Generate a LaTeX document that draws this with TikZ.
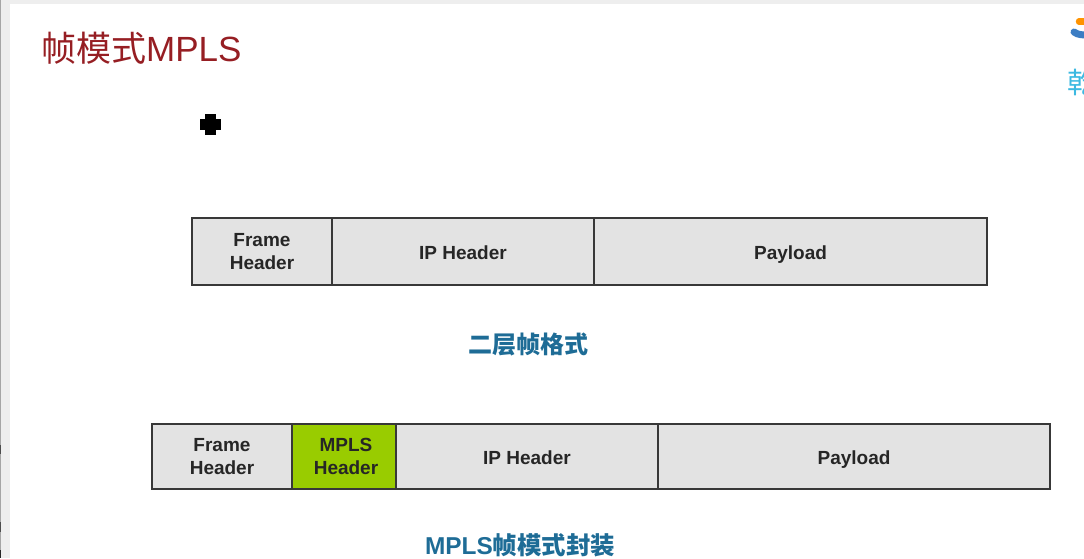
\documentclass[tikz,border=0pt]{standalone}
\usepackage{fontspec}
\setmainfont{Liberation Sans}
\newfontfamily\cjk{Noto Sans CJK SC}
\usetikzlibrary{positioning}
\definecolor{titlered}{RGB}{150,30,35}
\definecolor{capblue}{RGB}{30,108,150}
\definecolor{cellgray}{RGB}{227,227,227}
\definecolor{cellgreen}{RGB}{153,204,0}
\definecolor{edgegray}{RGB}{238,238,238}
\definecolor{logoblue}{RGB}{60,125,195}
\definecolor{logocyan}{RGB}{60,185,225}
\tikzset{
    cell/.style={draw=black!78, line width=2pt, fill=cellgray, inner sep=0pt, outer sep=0pt,
        minimum height=#1, align=center, text=black!85,
        font=\fontsize{19}{23}\selectfont\bfseries},
    cell/.default=67pt,
    oneline/.style={text height=16pt, text depth=0pt},
    caption/.style={text=capblue, inner sep=0pt, font=\fontsize{24}{28}\selectfont\bfseries\cjk},
}
\begin{document}
\begin{tikzpicture}[x=1pt,y=-1pt]
\useasboundingbox (0,0) rectangle (1084,558);
\clip (0,0) rectangle (1084,558);
\fill[edgegray] (0,0) rectangle (1084,4);
\fill[edgegray] (0,0) rectangle (10,558);
\fill[black!35] (0,0) rectangle (1,558);
\fill[black!70] (0,445) rectangle (1,454);
\fill[black!70] (0,522) rectangle (1,532);
\fill[black!85] (0,550) rectangle (1,558);
\node[anchor=west, inner sep=0pt, text=titlered, font=\fontsize{35}{40}\selectfont] (title) at (41,48) {\cjk 帧模式\rmfamily MPLS};
% pointer
\draw[line width=11pt, line join=round] (200,124.5) -- (221,124.5);
\draw[line width=11pt] (210.5,114) -- (210.5,135);
% logo in the corner
\draw[line width=6.5pt, line cap=round, color=orange!85!yellow] (1079,21.5) -- (1090,21.5);
\draw[line width=7pt, line cap=round, color=logoblue] (1074,32) .. controls (1078,35) and (1082,35) .. (1090,35);
\node[anchor=west, inner sep=0pt, text=logocyan, font=\fontsize{29}{32}\selectfont\cjk] (logotext) at (1067,82) {乾};
% plain frame
\node[cell, minimum width=140pt, anchor=north west] (frameA) at (192,218) {Frame\\Header};
\node[cell, oneline, minimum width=262pt, right=0pt of frameA] (ipA) {IP Header};
\node[cell, oneline, minimum width=393pt, right=0pt of ipA] (payA) {Payload};
\node[caption] (capA) at (528,344) {二层帧格式};
% labelled frame
\node[cell=65pt, minimum width=140pt, anchor=north west] (frameB) at (152,424) {Frame\\Header};
\node[cell=65pt, minimum width=104pt, fill=cellgreen, right=0pt of frameB] (mplsB) {\hspace*{4pt}MPLS\\\hspace*{4pt}Header};
\node[cell=65pt, oneline, minimum width=262pt, right=0pt of mplsB] (ipB) {IP Header};
\node[cell=65pt, oneline, minimum width=392pt, right=0pt of ipB] (payB) {Payload};
\node[caption, font=\fontsize{24.4}{28}\selectfont\bfseries\cjk] (capB) at (520,545.5) {\rmfamily MPLS\cjk 帧模式封装};
\end{tikzpicture}
\end{document}
